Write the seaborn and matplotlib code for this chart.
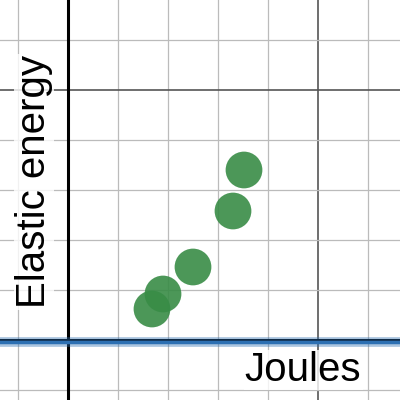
import matplotlib
matplotlib.use("Agg")
import matplotlib.pyplot as plt
import seaborn as sns

x_vals = [1.68, 1.9, 2.5, 3.3, 3.52]
y_vals = [0.62, 0.92, 1.46, 2.58, 3.4]
x_label = "Joules"
y_label = "Elastic energy"

plt.rcParams['font.family'] = ['Liberation Sans', 'DejaVu Sans']
fig = plt.figure(figsize=(4, 4), dpi=100)
ax = fig.add_axes([0, 0, 1, 1])
xmin, xmax = -1.36, 6.64
ymin, ymax = -1.2, 6.8
ax.set_xlim(xmin, xmax)
ax.set_ylim(ymin, ymax)
for gx in range(-1, 7):
    ax.axvline(gx, color="#555555" if gx % 5 == 0 else "#bbbbbb", lw=1.2 if gx % 5 == 0 else 0.9, zorder=0)
for gy in range(-1, 7):
    ax.axhline(gy, color="#555555" if gy % 5 == 0 else "#bbbbbb", lw=1.2 if gy % 5 == 0 else 0.9, zorder=0)
ax.axvline(0, color="black", lw=2.2, zorder=1)
ax.axhline(0, color="black", lw=2.2, zorder=1)
ax.axhline(-0.04, color="#2d70b3", lw=7, alpha=0.4, zorder=2)
ax.axhline(-0.04, color="#2d70b3", lw=2.5, zorder=2)
sns.scatterplot(x=x_vals, y=y_vals, s=700, color="#388c46", alpha=0.9, edgecolor="none", ax=ax, zorder=3)
ax.set_xticks([]); ax.set_yticks([])
for s in ax.spines.values():
    s.set_visible(False)
ax.text(0.758, 0.075, x_label, transform=ax.transAxes, fontsize=29, ha="center", va="center",
        bbox=dict(facecolor="white", edgecolor="none", alpha=0.8, pad=1), zorder=4)
ax.text(0.085, 0.545, y_label, transform=ax.transAxes, fontsize=29, rotation=90, ha="center", va="center",
        bbox=dict(facecolor="white", edgecolor="none", alpha=0.8, pad=1), zorder=4)
fig.savefig("out.png", dpi=100)
